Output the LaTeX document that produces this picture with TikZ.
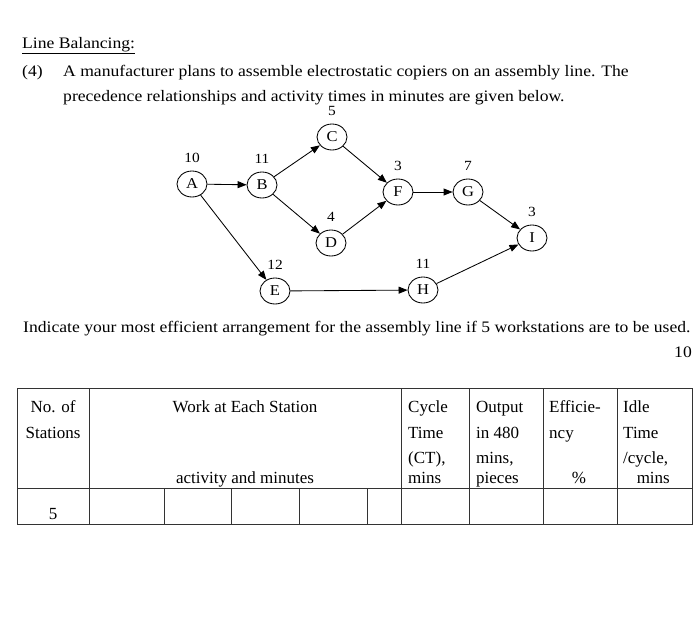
\documentclass[tikz,border=0pt]{standalone}
\usepackage{fontspec}
\setmainfont{Liberation Serif}
\newfontfamily\widefont{Liberation Serif}[FakeStretch=1.1]
\usetikzlibrary{shapes.geometric, positioning, arrows.meta}

\begin{document}
\begin{tikzpicture}[
  x=1pt, y=-1pt,
  txt/.style={inner sep=0pt, anchor=base west, font=\widefont\fontsize{16}{20}\selectfont},
  cell/.style={inner sep=0pt, anchor=base west, font=\fontsize{17}{20}\selectfont},
  act/.style={draw, ellipse, line width=0.85pt, minimum width=30pt, minimum height=26pt, inner sep=0pt, font=\widefont\fontsize{15}{15}\selectfont},
  dur/.style={inner sep=0pt, font=\widefont\fontsize{14}{14}\selectfont},
  arrow/.style={-{Triangle[length=9pt, width=7pt]}, line width=0.85pt},
  rule/.style={line width=0.8pt, draw=black!80},
]
\useasboundingbox (0,0) rectangle (700,616);

% Heading
\node[txt] (title) at (22,48) {\underline{Line Balancing:}};
\node[txt] (num) at (22,76) {(4)};
\node[txt] (q1) at (63,76) {A manufacturer plans to assemble electrostatic copiers on an assembly line.  The};
\node[txt] (q2) at (63,101) {precedence relationships and activity times in minutes are given below.};

% Activities
\node[act] (a) at (192,184) {A};
\node[act] (b) at (262,185) {B};
\node[act] (c) at (332,137) {C};
\node[act] (d) at (331,243) {D};
\node[act] (f) at (398,192) {F};
\node[act] (g) at (468,192) {G};
\node[act] (i) at (532,238) {I};
\node[act] (e) at (275,291) {E};
\node[act] (h) at (423,290) {H};

% Times
\node[dur, above=8pt of a] (ta) {10};
\node[dur, above=8pt of b] (tb) {11};
\node[dur, above=8pt of c] (tc) {5};
\node[dur, above=8pt of d] (td) {4};
\node[dur, above=8pt of f] (tf) {3};
\node[dur, above=8pt of g] (tg) {7};
\node[dur, above=8pt of i] (ti) {3};
\node[dur, above=8pt of e] (te) {12};
\node[dur, above=8pt of h] (th) {11};

\draw[arrow] (a) -- (b);
\draw[arrow] (b) -- (c);
\draw[arrow] (b) -- (d);
\draw[arrow] (c) -- (f);
\draw[arrow] (d) -- (f);
\draw[arrow] (f) -- (g);
\draw[arrow] (g) -- (i);
\draw[arrow] (a) -- (e);
\draw[arrow] (e) -- (h);
\draw[arrow] (h) -- (i);

% Question
\node[txt] (q3) at (23,332) {Indicate your most efficient arrangement for the assembly line if 5 workstations are to be used.};
\node[txt, anchor=base east] (marks) at (692,357) {10};

% Table
\draw[rule] (17,388) rectangle (692,524);
\draw[rule] (17,488) -- (692,488);
\foreach \x in {89,401,469,543,617}
  \draw[rule] (\x,388) -- (\x,524);
\foreach \x in {164,231,299,367}
  \draw[rule] (\x,488) -- (\x,524);

\node[cell, anchor=base] (no1) at (53,412) {No. of};
\node[cell, anchor=base] (no2) at (53,438) {Stations};
\node[cell, anchor=base] (wk1) at (245,412) {Work at Each Station};
\node[cell, anchor=base] (wk2) at (245,483) {activity and minutes};
\node[cell] (ct1) at (408,412) {Cycle};
\node[cell] (ct2) at (408,438) {Time};
\node[cell] (ct3) at (408,463) {(CT),};
\node[cell] (ct4) at (408,483) {mins};
\node[cell] (op1) at (476,412) {Output};
\node[cell] (op2) at (476,438) {in 480};
\node[cell] (op3) at (476,463) {mins,};
\node[cell] (op4) at (476,483) {pieces};
\node[cell] (ef1) at (549,412) {Efficie-};
\node[cell] (ef2) at (549,438) {ncy};
\node[cell, anchor=base] (ef3) at (579,483) {\%};
\node[cell] (id1) at (623,412) {Idle};
\node[cell] (id2) at (623,438) {Time};
\node[cell] (id3) at (623,463) {/cycle,};
\node[cell, anchor=base east] (id4) at (670,483) {mins};
\node[cell, anchor=base] (five) at (53,519) {5};

\end{tikzpicture}
\end{document}
